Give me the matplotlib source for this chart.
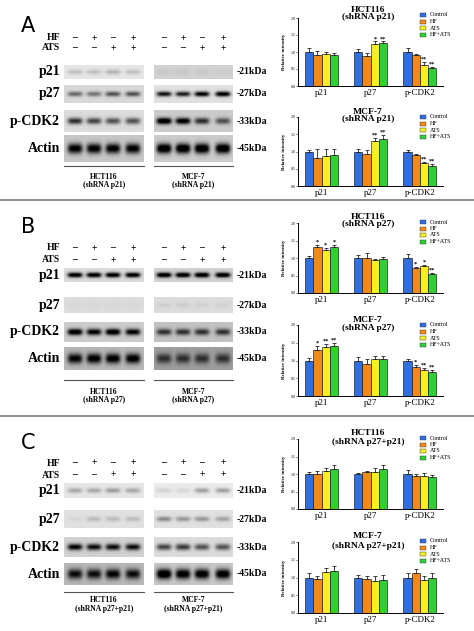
import numpy as np
import matplotlib
matplotlib.use("Agg")
import matplotlib.pyplot as plt
from matplotlib.patches import Rectangle

plt.rcParams['font.family'] = ['Liberation Serif', 'DejaVu Serif']

W, H = 474, 631

# ------------------------------
# data
# ------------------------------
proteins = ["p21", "p27", "p-CDK2"]
treatments = ["Control", "HF", "ATS", "HF+ATS"]
colors = ["#2f6fe0", "#f28a1a", "#f7ef22", "#2fcf35"]
hf_signs = ["\u2013", "+", "\u2013", "+"]
ats_signs = ["\u2013", "\u2013", "+", "+"]
blot_rows = ["p21", "p27", "p-CDK2", "Actin"]
kda_labels = ["-21kDa", "-27kDa", "-33kDa", "-45kDa"]

# bar values, rows = protein, cols = treatment
a_hct_vals = [[1.00, 0.92, 0.94, 0.92], [1.00, 0.87, 1.23, 1.27], [1.00, 0.91, 0.63, 0.53]]
a_hct_err = [[0.12, 0.10, 0.05, 0.05], [0.08, 0.10, 0.08, 0.04], [0.12, 0.03, 0.08, 0.03]]
a_hct_sig = [["", "", "", ""], ["", "", "*", "**"], ["", "", "**", "**"]]
a_mcf_vals = [[1.00, 0.81, 0.88, 0.90], [1.00, 0.93, 1.30, 1.37], [1.00, 0.91, 0.66, 0.59]]
a_mcf_err = [[0.04, 0.26, 0.19, 0.17], [0.07, 0.10, 0.10, 0.10], [0.05, 0.02, 0.05, 0.06]]
a_mcf_sig = [["", "", "", ""], ["", "", "**", "**"], ["", "", "**", "**"]]

b_hct_vals = [[1.00, 1.31, 1.24, 1.32], [1.00, 1.00, 0.93, 0.97], [1.00, 0.71, 0.76, 0.53]]
b_hct_err = [[0.06, 0.06, 0.05, 0.05], [0.08, 0.15, 0.03, 0.05], [0.12, 0.03, 0.03, 0.03]]
b_hct_sig = [["", "*", "*", "*"], ["", "", "", ""], ["", "*", "*", "**"]]
b_mcf_vals = [[1.00, 1.29, 1.37, 1.40], [1.00, 0.91, 1.04, 1.03], [1.00, 0.82, 0.72, 0.69]]
b_mcf_err = [[0.07, 0.11, 0.10, 0.10], [0.10, 0.12, 0.09, 0.09], [0.04, 0.05, 0.06, 0.04]]
b_mcf_sig = [["", "*", "**", "**"], ["", "", "", ""], ["", "*", "**", "**"]]

c_hct_vals = [[1.00, 1.00, 1.10, 1.15], [1.00, 1.05, 1.07, 1.13], [1.00, 0.93, 0.95, 0.92]]
c_hct_err = [[0.07, 0.10, 0.08, 0.10], [0.03, 0.05, 0.09, 0.12], [0.12, 0.07, 0.07, 0.06]]
c_mcf_vals = [[1.00, 0.97, 1.16, 1.17], [1.00, 0.97, 0.91, 0.92], [1.00, 1.12, 0.93, 0.98]]
c_mcf_err = [[0.12, 0.08, 0.10, 0.14], [0.06, 0.08, 0.13, 0.16], [0.12, 0.12, 0.10, 0.15]]
no_sig = [["", "", "", ""]] * 3

# blot band darkness, rows = p21, p27, p-CDK2, Actin ; 4 lanes
a_hct_bands = [[0.15, 0.15, 0.20, 0.15], [0.45, 0.40, 0.55, 0.55], [0.70, 0.60, 0.55, 0.55], [0.85, 0.85, 0.85, 0.85]]
a_mcf_bands = [[0.04, 0.04, 0.04, 0.03], [0.85, 0.80, 0.95, 1.00], [1.00, 0.90, 0.65, 0.50], [1.00, 1.00, 1.00, 1.00]]
b_hct_bands = [[1.00, 1.00, 1.00, 1.00], [0.02, 0.02, 0.02, 0.02], [0.95, 0.85, 0.95, 0.85], [0.75, 0.80, 0.80, 0.80]]
b_mcf_bands = [[1.00, 1.00, 1.00, 1.00], [0.05, 0.06, 0.05, 0.04], [0.60, 0.60, 0.60, 0.60], [0.45, 0.45, 0.45, 0.45]]
c_hct_bands = [[0.25, 0.25, 0.30, 0.25], [0.04, 0.15, 0.15, 0.15], [0.85, 0.80, 0.80, 0.80], [0.70, 0.70, 0.75, 0.70]]
c_mcf_bands = [[0.10, 0.08, 0.30, 0.30], [0.35, 0.30, 0.30, 0.25], [0.60, 0.65, 0.55, 0.55], [1.00, 0.90, 0.90, 0.90]]
a_bg = [[0.90, 0.85, 0.86, 0.78], [0.82, 0.88, 0.80, 0.80]]
b_bg = [[0.86, 0.86, 0.80, 0.72], [0.82, 0.86, 0.76, 0.62]]
c_bg = [[0.90, 0.88, 0.82, 0.72], [0.92, 0.88, 0.86, 0.78]]

# ------------------------------
# figure / pixel canvas
# ------------------------------
fig = plt.figure(figsize=(W / 100, H / 100), dpi=100)
canvas = fig.add_axes([0, 0, 1, 1])
canvas.axis('off')

hct_lanes = [75, 94, 113, 133]
mcf_lanes = [164, 183, 202, 223]
hct_box = (64, 144)
mcf_box = (154, 233)
band_thick = [2.5, 2.5, 3.2, 5.0]


def draw_strip(x0, x1, y0, y1, lanes, dark, bg, thick):
    xs = np.linspace(x0, x1, int((x1 - x0) * 4))
    ys = np.linspace(y0, y1, int((y1 - y0) * 4))
    X, Y = np.meshgrid(xs, ys)
    img = np.full_like(X, bg)
    yc = (y0 + y1) / 2
    for xc, d in zip(lanes, dark):
        img -= d * np.exp(-((X - xc) / 7.5) ** 4) * np.exp(-((Y - yc) / thick) ** 2)
    canvas.imshow(np.clip(img, 0, 1), cmap='gray', vmin=0, vmax=1,
                  extent=(x0, x1, y1, y0), aspect='auto', interpolation='bilinear')


def draw_blot(letter, lay, hct_bands, mcf_bands, bg, sub):
    canvas.text(28, lay['letter'], letter, fontsize=15, ha='center', va='center',
                family=['Liberation Sans Narrow', 'DejaVu Sans'])
    canvas.text(60, lay['hf'], "HF", fontsize=7, fontweight='bold', ha='right', va='center')
    canvas.text(60, lay['ats'], "ATS", fontsize=7, fontweight='bold', ha='right', va='center')
    for lanes in (hct_lanes, mcf_lanes):
        for x, s1, s2 in zip(lanes, hf_signs, ats_signs):
            canvas.text(x, lay['hf'], s1, fontsize=7, fontweight='bold', ha='center', va='center')
            canvas.text(x, lay['ats'], s2, fontsize=7, fontweight='bold', ha='center', va='center')
    for r, (y0, y1) in enumerate(lay['rows']):
        draw_strip(*hct_box, y0, y1, hct_lanes, hct_bands[r], bg[0][r], band_thick[r])
        draw_strip(*mcf_box, y0, y1, mcf_lanes, mcf_bands[r], bg[1][r], band_thick[r])
        yc = (y0 + y1) / 2
        canvas.text(60, yc, blot_rows[r], fontsize=10, fontweight='bold', ha='right', va='center')
        canvas.text(237, yc, kda_labels[r], fontsize=7, fontweight='bold', ha='left', va='center')
    for (x0, x1), cell in ((hct_box, "HCT116"), (mcf_box, "MCF-7")):
        canvas.plot([x0, x1], [lay['line'], lay['line']], color='#555555', lw=0.8)
        canvas.text((x0 + x1) / 2, lay['cap1'], cell, fontsize=5.5, fontweight='bold', ha='center', va='center')
        canvas.text((x0 + x1) / 2, lay['cap2'], "(shRNA %s)" % sub, fontsize=5.5, fontweight='bold',
                    ha='center', va='center')


def draw_bars(top, bottom, t1, t2, vals, errs, sigs, cell, sub):
    ax = fig.add_axes([298 / W, 1 - bottom / H, (443 - 298) / W, (bottom - top) / H])
    ax.patch.set_alpha(0)
    vals = np.array(vals)
    errs = np.array(errs)
    x = np.arange(len(proteins))
    for i in range(len(treatments)):
        xi = x + (i - 1.5) * 0.168
        ax.bar(xi, vals[:, i], width=0.168, color=colors[i], edgecolor='black', linewidth=0.4,
               yerr=[np.zeros(len(x)), errs[:, i]], capsize=1.3,
               error_kw=dict(lw=0.6, capthick=0.6, ecolor='#222222'))
        for j in range(len(x)):
            if sigs[j][i]:
                ax.text(xi[j], vals[j, i] + errs[j, i] + 0.01, sigs[j][i], fontsize=4.5,
                        fontweight='bold', ha='center', va='bottom')
    ax.set_xlim(-0.48, 2.47)
    ax.set_ylim(0, 2.0)
    ax.set_yticks([0, 0.5, 1.0, 1.5, 2.0])
    ax.set_yticklabels(["0.0", "0.5", "1.0", "1.5", "2.0"])
    ax.tick_params(axis='y', labelsize=2.8, length=1.2, width=0.4, pad=0.8)
    ax.set_xticks(x)
    ax.set_xticklabels(proteins)
    ax.tick_params(axis='x', labelsize=6.5, length=0, pad=2.5)
    for s in ('top', 'right'):
        ax.spines[s].set_visible(False)
    for s in ('left', 'bottom'):
        ax.spines[s].set_linewidth(0.7)
    ax.set_ylabel("Relative intensity", fontsize=3.5, fontweight='bold', labelpad=3)
    canvas.text(368, t1, cell, fontsize=6.8, fontweight='bold', ha='center', va='center')
    canvas.text(368, t2, "(shRNA %s)" % sub, fontsize=6.8, fontweight='bold', ha='center', va='center')
    for i, name in enumerate(treatments):
        ry = t1 + 5 + 6.5 * i
        canvas.add_patch(Rectangle((420, ry - 2), 6, 4, facecolor=colors[i], edgecolor='#333333', lw=0.3))
        canvas.text(430, ry, name, fontsize=4.3, ha='left', va='center')


lay_a = dict(letter=26, hf=38, ats=48, rows=[(65, 79), (85, 103), (110, 132), (135, 162)],
             line=166, cap1=177, cap2=185)
lay_b = dict(letter=227, hf=248, ats=260, rows=[(268, 282), (297, 313), (322, 342), (347, 370)],
             line=380, cap1=392, cap2=400)
lay_c = dict(letter=443, hf=463, ats=475, rows=[(483, 498), (510, 528), (537, 557), (563, 585)],
             line=592, cap1=600, cap2=609)

draw_blot("A", lay_a, a_hct_bands, a_mcf_bands, a_bg, "p21")
draw_blot("B", lay_b, b_hct_bands, b_mcf_bands, b_bg, "p27")
draw_blot("C", lay_c, c_hct_bands, c_mcf_bands, c_bg, "p27+p21")

draw_bars(18, 86, 10, 17, a_hct_vals, a_hct_err, a_hct_sig, "HCT116", "p21")
draw_bars(117, 186, 112, 119, a_mcf_vals, a_mcf_err, a_mcf_sig, "MCF-7", "p21")
draw_bars(223, 293, 217, 224, b_hct_vals, b_hct_err, b_hct_sig, "HCT116", "p27")
draw_bars(325, 396, 320, 328, b_mcf_vals, b_mcf_err, b_mcf_sig, "MCF-7", "p27")
draw_bars(439, 509, 433, 442, c_hct_vals, c_hct_err, no_sig, "HCT116", "p27+p21")
draw_bars(542, 613, 536, 546, c_mcf_vals, c_mcf_err, no_sig, "MCF-7", "p27+p21")

# separators between panels
for y in (200, 416):
    canvas.plot([0, W], [y, y], color='#8a8a8a', lw=1.4)

canvas.set_xlim(0, W)
canvas.set_ylim(H, 0)

fig.savefig("out.png", dpi=100)
